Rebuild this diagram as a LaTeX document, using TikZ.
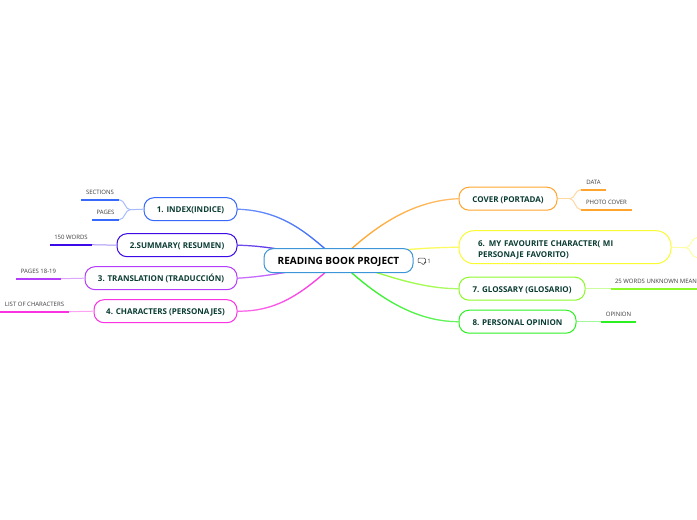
\documentclass[tikz,border=0pt]{standalone}
\usepackage{fontspec}
\setmainfont{Open Sans}
\usetikzlibrary{backgrounds,fadings}
\definecolor{rootblue}{RGB}{60,150,215}
\definecolor{indexblue}{RGB}{55,105,250}
\definecolor{sumblue}{RGB}{60,10,230}
\definecolor{transpurple}{RGB}{180,60,250}
\definecolor{charpink}{RGB}{250,50,225}
\definecolor{coverorange}{RGB}{255,165,45}
\definecolor{favyellow}{RGB}{250,250,50}
\definecolor{glosslime}{RGB}{140,250,40}
\definecolor{opgreen}{RGB}{45,240,35}
\definecolor{nodetext}{RGB}{10,60,50}
\definecolor{leaftext}{RGB}{60,60,60}
\tikzfading[name=palewest, left color=transparent!70, middle color=transparent!0, right color=transparent!0]
\tikzfading[name=paleeast, left color=transparent!0, middle color=transparent!0, right color=transparent!70]
\begin{document}
\begin{tikzpicture}[x=1pt, y=-1pt,
    topic/.style={draw=#1, line width=1pt, fill=white, rounded corners=10pt, minimum height=23pt, inner sep=0pt, text=nodetext, text height=8.5pt, text depth=1.3pt, font=\fontsize{8}{12}\selectfont\bfseries},
    leaf/.style={anchor=south, minimum height=16pt, inner sep=0pt, text=leaftext, text height=6pt, text depth=1pt, font=\fontsize{6}{7}\selectfont},
    rule/.style={draw=#1, line width=1.6pt},
    twig/.style={draw=#1!45, line width=1pt},
    branchbase/.style={draw=#1!60, line width=1.2pt},
    branchleft/.style={draw=#1, line width=1.2pt, path fading=palewest},
    branchright/.style={draw=#1, line width=1.2pt, path fading=paleeast}]
    \clip (0,-0.7) rectangle (697,519.3);

    % centre
    \node (root) [draw=rootblue, line width=1pt, fill=white, rounded corners=9pt, minimum width=149pt, minimum height=24pt, inner sep=0pt, text height=10pt, text depth=1.6pt, font=\fontsize{10}{12}\selectfont\bfseries] at (338.5,260) {READING BOOK PROJECT};
    \node (note) [text=leaftext, inner sep=0pt, font=\fontsize{6}{7}\selectfont] at (429,260.5) {1};
    \draw[leaftext, line width=0.5pt, rounded corners=1pt] (418,257.5) -- (425.5,257.5) -- (425.5,262) -- (424.5,262) -- (423.5,264.5) -- (421.5,262) -- (418,262) -- cycle;

    % left side
    \node (index) [topic=indexblue, minimum width=93pt] at (190.5,208.5) {1. INDEX(INDICE)};
    \node (summary) [topic=sumblue, minimum width=120pt] at (177,244.5) {2.SUMMARY( RESUMEN)};
    \node (translation) [topic=transpurple, minimum width=152pt] at (161,277.5) {3. TRANSLATION (TRADUCCIÓN)};
    \node (characters) [topic=charpink, minimum width=143pt] at (165.5,310.5) {4. CHARACTERS (PERSONAJES)};

    \node (sections) [leaf, minimum width=38pt] at (100,199) {SECTIONS};
    \node (pages) [leaf, minimum width=27pt] at (105.5,219) {PAGES};
    \node (words) [leaf, minimum width=42pt] at (71,244) {150 WORDS};
    \node (pagesrange) [leaf, minimum width=45pt] at (38.5,278) {PAGES 18-19};
    \node (charlist) [leaf, minimum width=69pt] at (34.5,311) {LIST OF CHARACTERS};

    % right side
    \node (cover) [topic=coverorange, minimum width=98pt] at (508,198) {COVER (PORTADA)};
    \node (favourite) [topic=favyellow, minimum width=212pt, minimum height=33pt, rounded corners=15pt, align=left, text width=174pt, text height=, text depth=, font=\fontsize{8}{11.5}\selectfont\bfseries] at (565,246.5) {\rule{0pt}{11pt}6. MY FAVOURITE CHARACTER( MI\\PERSONAJE FAVORITO)};
    \node (glossary) [topic=glosslime, minimum width=126pt] at (522,288) {7. GLOSSARY (GLOSARIO)};
    \node (opinion) [topic=opgreen, minimum width=117pt] at (517.5,321) {8. PERSONAL OPINION};

    \node (data) [leaf, minimum width=25pt] at (593.5,189) {DATA};
    \node (photo) [leaf, minimum width=51pt] at (606.5,209) {PHOTO COVER};
    \node (unknown) [leaf, minimum width=90pt] at (656,288) {25 WORDS UNKNOWN MEAN};
    \node (opinionleaf) [leaf, minimum width=35pt] at (618.5,321) {OPINION};

    \coordinate (indexfork) at (130,209);
    \coordinate (coverfork) at (570,198);
    \coordinate (favfork) at (686,247);
    \coordinate (favup) at (697,237);
    \coordinate (favdown) at (697,257);

    \begin{scope}[on background layer]
        \draw[branchbase=indexblue] (root.center) .. controls (310,235) and (285,210) .. (index.east);
        \draw[branchleft=indexblue] (root.center) .. controls (310,235) and (285,210) .. (index.east);
        \draw[branchbase=sumblue] (root.center) .. controls (290,250) and (265,245) .. (summary.east);
        \draw[branchleft=sumblue] (root.center) .. controls (290,250) and (265,245) .. (summary.east);
        \draw[branchbase=transpurple] (root.center) .. controls (300,270) and (265,276) .. (translation.east);
        \draw[branchleft=transpurple] (root.center) .. controls (300,270) and (265,276) .. (translation.east);
        \draw[branchbase=charpink] (root.center) .. controls (305,290) and (280,311) .. (characters.east);
        \draw[branchleft=charpink] (root.center) .. controls (305,290) and (280,311) .. (characters.east);

        \draw[branchbase=coverorange] (root.center) .. controls (365,235) and (405,200) .. (cover.west);
        \draw[branchright=coverorange] (root.center) .. controls (365,235) and (405,200) .. (cover.west);
        \draw[branchbase=favyellow] (root.center) .. controls (380,250) and (420,247) .. (favourite.west);
        \draw[branchright=favyellow] (root.center) .. controls (380,250) and (420,247) .. (favourite.west);
        \draw[branchbase=glosslime] (root.center) .. controls (375,270) and (415,288) .. (glossary.west);
        \draw[branchright=glosslime] (root.center) .. controls (375,270) and (415,288) .. (glossary.west);
        \draw[branchbase=opgreen] (root.center) .. controls (370,290) and (410,321) .. (opinion.west);
        \draw[branchright=opgreen] (root.center) .. controls (370,290) and (410,321) .. (opinion.west);
    \end{scope}

    % twigs
    \draw[twig=indexblue] (index.west) -- (indexfork);
    \draw[twig=indexblue] (indexfork) .. controls (125,209) and (125,199) .. (sections.south east);
    \draw[twig=indexblue] (indexfork) .. controls (125,209) and (125,219) .. (pages.south east);
    \draw[twig=sumblue] (summary.west) -- (words.south east);
    \draw[twig=transpurple] (translation.west) -- (pagesrange.south east);
    \draw[twig=charpink] (characters.west) -- (charlist.south east);
    \draw[twig=coverorange] (cover.east) -- (coverfork);
    \draw[twig=coverorange] (coverfork) .. controls (575,198) and (575,189) .. (data.south west);
    \draw[twig=coverorange] (coverfork) .. controls (575,198) and (575,209) .. (photo.south west);
    \draw[twig=favyellow] (favourite.east) -- (favfork);
    \draw[twig=favyellow] (favfork) .. controls (691,247) and (691,237) .. (favup);
    \draw[twig=favyellow] (favfork) .. controls (691,247) and (691,257) .. (favdown);
    \draw[twig=glosslime] (glossary.east) -- (unknown.south west);
    \draw[twig=opgreen] (opinion.east) -- (opinionleaf.south west);

    % leaf underlines
    \draw[rule=indexblue] (sections.south west) -- (sections.south east);
    \draw[rule=indexblue] (pages.south west) -- (pages.south east);
    \draw[rule=sumblue] (words.south west) -- (words.south east);
    \draw[rule=transpurple] (pagesrange.south west) -- (pagesrange.south east);
    \draw[rule=charpink] (charlist.south west) -- (charlist.south east);
    \draw[rule=coverorange] (data.south west) -- (data.south east);
    \draw[rule=coverorange] (photo.south west) -- (photo.south east);
    \draw[rule=glosslime] (unknown.south west) -- (unknown.south east);
    \draw[rule=opgreen] (opinionleaf.south west) -- (opinionleaf.south east);
\end{tikzpicture}
\end{document}
